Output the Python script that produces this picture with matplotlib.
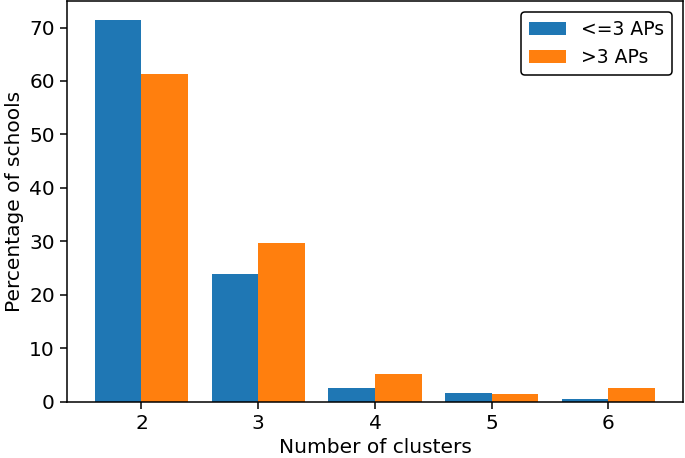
import numpy as np
import matplotlib.pyplot as plt

# Number of clusters per school, split by AP count
clusters = [2, 3, 4, 5, 6]
few_aps = [71.4, 23.9, 2.6, 1.7, 0.5]
many_aps = [61.3, 29.7, 5.2, 1.4, 2.6]

fig = plt.figure(figsize=(6.85, 4.58), dpi=100)
ax = fig.add_axes([0.0974, 0.1229, 0.9, 0.875])

x = np.array(clusters)
width = 0.4
ax.bar(x - width / 2, few_aps, width, label="<=3 APs")
ax.bar(x + width / 2, many_aps, width, label=">3 APs")

ax.set_xticks(clusters)
ax.set_xlabel("Number of clusters", fontsize=14.5)
ax.set_ylabel("Percentage of schools", fontsize=14.5)
ax.tick_params(labelsize=14.5, length=5, width=1.1)
for s in ax.spines.values():
    s.set_linewidth(1.1)
leg = ax.legend(fontsize=13.5, loc="upper right", edgecolor="black", framealpha=1,
                borderaxespad=0.6)
leg.get_frame().set_linewidth(1.1)

fig.savefig("out.png", dpi=100)
